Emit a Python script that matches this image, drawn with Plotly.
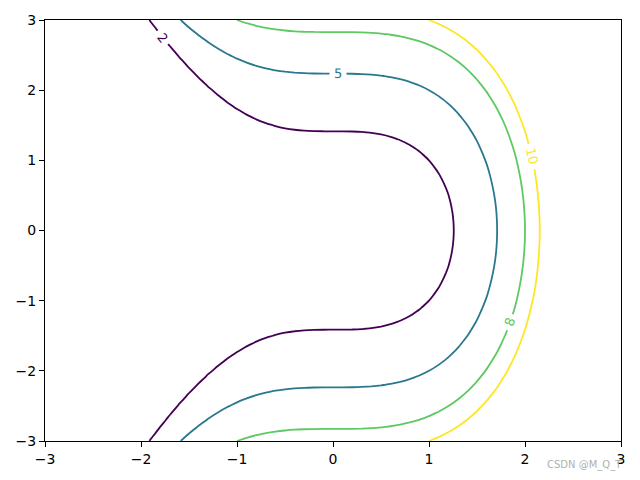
import numpy as np
import plotly.graph_objects as go

# grid for the scalar field f(x, y) = x^3 + y^2
x_vals = np.linspace(-3, 3, 61)
y_vals = np.linspace(-3, 3, 61)
levels = [2, 5, 8, 10]
level_colors = ["#440154", "#2a788e", "#5ec962", "#fde725"]
# x position (data units) and half-plane of each inline label on its contour
label_x = [-1.776, 0.05, 1.847, 2.072]
label_side = [1, 1, -1, 1]
tick_vals = [-3, -2, -1, 0, 1, 2, 3]
tick_text = ["\u22123", "\u22122", "\u22121", "0", "1", "2", "3"]

X, Y = np.meshgrid(x_vals, y_vals)
Z = X**3 + Y**2

fig = go.Figure()
for lev, col in zip(levels, level_colors):
    fig.add_trace(go.Contour(
        x=x_vals, y=y_vals, z=Z,
        autocontour=False,
        contours=dict(start=lev, end=lev, size=1, coloring="lines",
                      showlabels=False),
        colorscale=[[0, col], [1, col]],
        line=dict(width=1.8),
        showscale=False,
        hoverinfo="skip",
    ))

# pixel scale of the plot area (576 x 421 px for 6 x 6 data units)
px_x = 576 / 6.0
px_y = 421 / 6.0
annotations = []
for lev, col, lx, side in zip(levels, level_colors, label_x, label_side):
    ly = side * np.sqrt(lev - lx**3)
    gx, gy = 3 * lx**2, 2 * ly
    # tangent direction in screen pixels (y down)
    tx, ty = gy * px_x, gx * px_y
    ang = np.degrees(np.arctan2(ty, tx))
    if ang > 90:
        ang -= 180
    if ang < -90:
        ang += 180
    annotations.append(dict(
        x=lx, y=ly, xref="x", yref="y", text=str(lev), showarrow=False,
        textangle=float(ang), bgcolor="white", borderpad=4,
        font=dict(family="DejaVu Sans", size=13, color=col)))

annotations.append(dict(text="CSDN @M_Q_T", xref="paper", yref="paper",
                        x=1.005, y=-0.057, xanchor="right", yanchor="middle",
                        showarrow=False,
                        font=dict(family="DejaVu Sans", size=10, color="#b0b0b0")))

axis_common = dict(
    tickvals=tick_vals, ticktext=tick_text,
    showgrid=False, zeroline=False, automargin=False,
    showline=True, linecolor="black", linewidth=1, mirror=True,
    ticks="outside", ticklen=5, tickcolor="black",
    tickfont=dict(family="DejaVu Sans", size=14, color="black"),
)
fig.update_xaxes(range=[-3, 3], **axis_common)
fig.update_yaxes(range=[-3, 3], **axis_common)

fig.update_layout(
    width=640, height=480,
    margin=dict(l=37, r=27, t=12, b=47),
    paper_bgcolor="white", plot_bgcolor="white",
    showlegend=False,
    annotations=annotations,
)

fig.write_html("out.html")
